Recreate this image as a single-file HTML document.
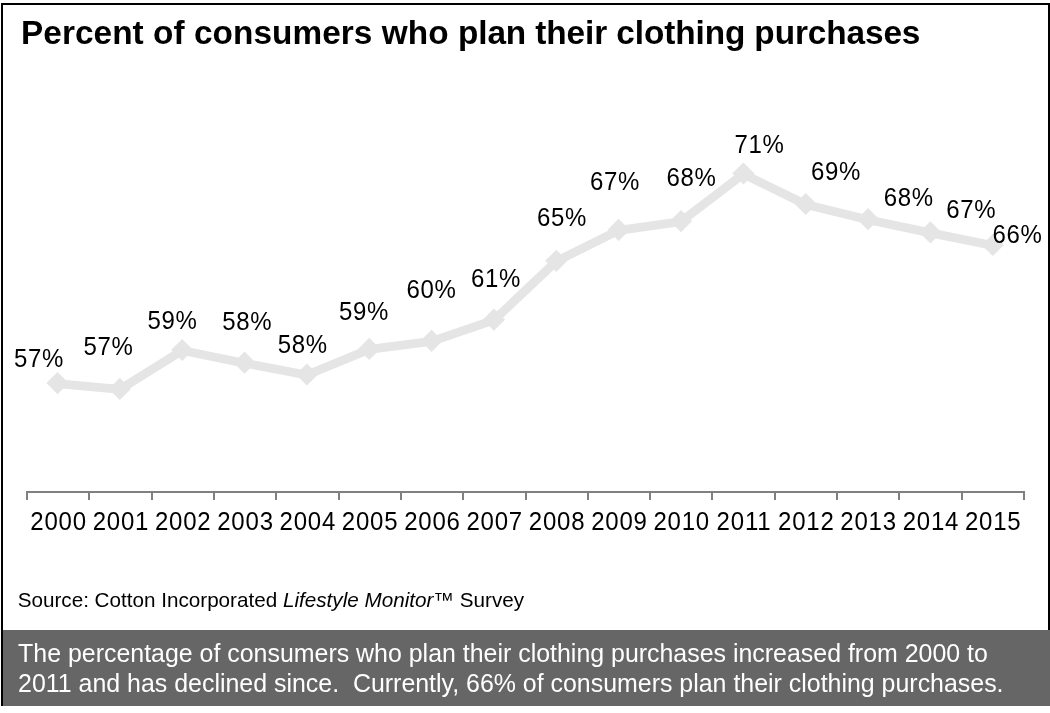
<!DOCTYPE html>
<html><head><meta charset="utf-8"><title>Percent of consumers who plan their clothing purchases</title>
<style>
html,body{margin:0;padding:0;background:#fff;}
body{width:1050px;height:713px;position:relative;overflow:hidden;font-family:"Liberation Sans",Arial,sans-serif;color:#000;}
.frame{position:absolute;left:1px;top:3px;width:1045px;height:701px;border:2px solid #000;border-bottom:none;box-sizing:content-box;}
.title{position:absolute;left:21px;top:14px;font-size:33.33px;font-weight:bold;white-space:nowrap;line-height:38px;}
svg{position:absolute;left:0;top:0;}
.dl,.ax{font-family:"Liberation Sans",Arial,sans-serif;font-size:24px;fill:#000;}
.dl{letter-spacing:0.65px;}
.ax{letter-spacing:0.8px;}
.src{position:absolute;left:17.7px;top:588px;font-size:20.67px;line-height:23px;white-space:nowrap;}
.bar{position:absolute;left:3px;top:630px;width:1047px;height:76px;background:#666;}
.bar p{position:absolute;margin:0;left:15.1px;color:#fff;font-size:24.93px;line-height:30px;white-space:pre;}
</style></head><body>
<div class="frame"></div>
<div class="title"><span style="letter-spacing:0.07px">Percent of consumers who </span><span style="letter-spacing:-0.085px">plan their clothing purchases</span></div>
<svg width="1050" height="713" viewBox="0 0 1050 713">
<polyline points="57.5,383.6 119.8,389.4 182.2,350.5 244.6,363.2 306.9,375.0 369.2,349.4 431.6,341.3 493.9,320.2 556.3,261.3 618.6,230.4 681.0,221.6 743.4,174.0 805.7,204.5 868.1,219.7 930.4,232.9 992.8,245.5" fill="none" stroke="#e5e5e5" stroke-width="8.8" stroke-linejoin="round" stroke-linecap="round"/>
<path d="M57.5 372.0L68.6 383.1L57.5 394.2L46.4 383.1Z" fill="#e5e5e5"/>
<path d="M119.8 377.8L130.9 388.9L119.8 400.0L108.8 388.9Z" fill="#e5e5e5"/>
<path d="M182.2 338.9L193.3 350.0L182.2 361.1L171.1 350.0Z" fill="#e5e5e5"/>
<path d="M244.6 351.6L255.7 362.7L244.6 373.8L233.5 362.7Z" fill="#e5e5e5"/>
<path d="M306.9 363.4L318.0 374.5L306.9 385.6L295.8 374.5Z" fill="#e5e5e5"/>
<path d="M369.2 337.8L380.4 348.9L369.2 360.0L358.1 348.9Z" fill="#e5e5e5"/>
<path d="M431.6 329.7L442.7 340.8L431.6 351.9L420.5 340.8Z" fill="#e5e5e5"/>
<path d="M493.9 308.6L505.1 319.7L493.9 330.8L482.8 319.7Z" fill="#e5e5e5"/>
<path d="M556.3 249.7L567.4 260.8L556.3 271.9L545.2 260.8Z" fill="#e5e5e5"/>
<path d="M618.6 218.8L629.8 229.9L618.6 241.0L607.5 229.9Z" fill="#e5e5e5"/>
<path d="M681.0 210.0L692.1 221.1L681.0 232.2L669.9 221.1Z" fill="#e5e5e5"/>
<path d="M743.4 162.4L754.5 173.5L743.4 184.6L732.2 173.5Z" fill="#e5e5e5"/>
<path d="M805.7 192.9L816.8 204.0L805.7 215.1L794.6 204.0Z" fill="#e5e5e5"/>
<path d="M868.1 208.1L879.2 219.2L868.1 230.3L857.0 219.2Z" fill="#e5e5e5"/>
<path d="M930.4 221.3L941.5 232.4L930.4 243.5L919.3 232.4Z" fill="#e5e5e5"/>
<path d="M992.8 233.9L1003.9 245.0L992.8 256.1L981.6 245.0Z" fill="#e5e5e5"/>
<path d="M26.0 492H1025.0" stroke="#808080" stroke-width="2" fill="none"/>
<path d="M27 492V500" stroke="#808080" stroke-width="2" fill="none"/>
<path d="M89 492V500" stroke="#808080" stroke-width="2" fill="none"/>
<path d="M152 492V500" stroke="#808080" stroke-width="2" fill="none"/>
<path d="M214 492V500" stroke="#808080" stroke-width="2" fill="none"/>
<path d="M276 492V500" stroke="#808080" stroke-width="2" fill="none"/>
<path d="M339 492V500" stroke="#808080" stroke-width="2" fill="none"/>
<path d="M401 492V500" stroke="#808080" stroke-width="2" fill="none"/>
<path d="M463 492V500" stroke="#808080" stroke-width="2" fill="none"/>
<path d="M526 492V500" stroke="#808080" stroke-width="2" fill="none"/>
<path d="M588 492V500" stroke="#808080" stroke-width="2" fill="none"/>
<path d="M650 492V500" stroke="#808080" stroke-width="2" fill="none"/>
<path d="M712 492V500" stroke="#808080" stroke-width="2" fill="none"/>
<path d="M775 492V500" stroke="#808080" stroke-width="2" fill="none"/>
<path d="M837 492V500" stroke="#808080" stroke-width="2" fill="none"/>
<path d="M899 492V500" stroke="#808080" stroke-width="2" fill="none"/>
<path d="M962 492V500" stroke="#808080" stroke-width="2" fill="none"/>
<path d="M1024 492V500" stroke="#808080" stroke-width="2" fill="none"/>
<text transform="translate(14.1 367.0) scale(1 1.04)" class="dl">57%</text>
<text transform="translate(83.6 355.0) scale(1 1.04)" class="dl">57%</text>
<text transform="translate(147.5 328.9) scale(1 1.04)" class="dl">59%</text>
<text transform="translate(222.3 329.7) scale(1 1.04)" class="dl">58%</text>
<text transform="translate(277.7 352.9) scale(1 1.04)" class="dl">58%</text>
<text transform="translate(338.9 319.7) scale(1 1.04)" class="dl">59%</text>
<text transform="translate(406.4 297.8) scale(1 1.04)" class="dl">60%</text>
<text transform="translate(470.9 286.6) scale(1 1.04)" class="dl">61%</text>
<text transform="translate(536.9 226.3) scale(1 1.04)" class="dl">65%</text>
<text transform="translate(590.1 189.6) scale(1 1.04)" class="dl">67%</text>
<text transform="translate(666.4 185.6) scale(1 1.04)" class="dl">68%</text>
<text transform="translate(734.4 152.8) scale(1 1.04)" class="dl">71%</text>
<text transform="translate(810.9 180.4) scale(1 1.04)" class="dl">69%</text>
<text transform="translate(883.7 206.3) scale(1 1.04)" class="dl">68%</text>
<text transform="translate(946.2 217.5) scale(1 1.04)" class="dl">67%</text>
<text transform="translate(992.6 243.0) scale(1 1.04)" class="dl">66%</text>
<text transform="translate(58.6 529.8) scale(1 1.04)" class="ax" text-anchor="middle">2000</text>
<text transform="translate(120.9 529.8) scale(1 1.04)" class="ax" text-anchor="middle">2001</text>
<text transform="translate(183.2 529.8) scale(1 1.04)" class="ax" text-anchor="middle">2002</text>
<text transform="translate(245.5 529.8) scale(1 1.04)" class="ax" text-anchor="middle">2003</text>
<text transform="translate(307.8 529.8) scale(1 1.04)" class="ax" text-anchor="middle">2004</text>
<text transform="translate(370.1 529.8) scale(1 1.04)" class="ax" text-anchor="middle">2005</text>
<text transform="translate(432.4 529.8) scale(1 1.04)" class="ax" text-anchor="middle">2006</text>
<text transform="translate(494.7 529.8) scale(1 1.04)" class="ax" text-anchor="middle">2007</text>
<text transform="translate(557.1 529.8) scale(1 1.04)" class="ax" text-anchor="middle">2008</text>
<text transform="translate(619.4 529.8) scale(1 1.04)" class="ax" text-anchor="middle">2009</text>
<text transform="translate(681.7 529.8) scale(1 1.04)" class="ax" text-anchor="middle">2010</text>
<text transform="translate(744.0 529.8) scale(1 1.04)" class="ax" text-anchor="middle">2011</text>
<text transform="translate(806.3 529.8) scale(1 1.04)" class="ax" text-anchor="middle">2012</text>
<text transform="translate(868.6 529.8) scale(1 1.04)" class="ax" text-anchor="middle">2013</text>
<text transform="translate(930.9 529.8) scale(1 1.04)" class="ax" text-anchor="middle">2014</text>
<text transform="translate(993.2 529.8) scale(1 1.04)" class="ax" text-anchor="middle">2015</text>
</svg>
<div class="src">Source: Cotton Incorporated <i>Lifestyle Monitor</i>™ Survey</div>
<div class="bar"><p style="top:8px">The percentage of consumers who plan their clothing purchases increased from 2000 to</p><p style="top:38px">2011 and has declined since.  Currently, 66% of consumers plan their clothing purchases.</p></div>
</body></html>
